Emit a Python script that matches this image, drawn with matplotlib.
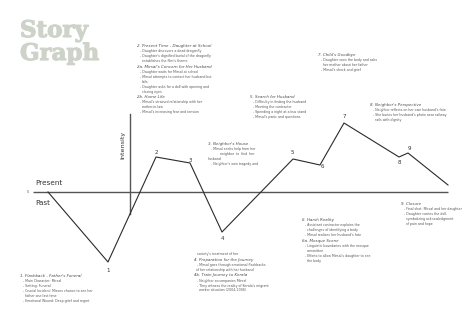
import matplotlib
matplotlib.use("Agg")
import matplotlib.pyplot as plt
import matplotlib.patheffects as pe

# story beats: position along the film (px-ish scale) and intensity (+ present / - past)
beat_labels = ["", "1", "2", "3", "4", "5", "6", "7", "8", "9", ""]
beat_x = [48, 108, 156, 190, 222, 293, 320, 344, 399, 408, 448]
beat_y = [0.0, -7.0, 3.5, 2.9, -4.0, 3.3, 2.7, 6.9, 3.5, 3.9, 0.7]
label_off = [None, (0, -9), (0, 5), (0, 3), (0, -7), (-1, 6), (2, -2), (0, 6), (0, -5), (1, 5), None]

blocks = [
    (137, 46, [("h", "2. Present Time - Daughter at School"),
               ("b", "- Daughter discovers a dead dragonfly"),
               ("b", "- Daughter's dignified burial of the dragonfly"),
               ("c", "establishes the film's theme"),
               ("h", "2a. Mirsal's Concern for Her Husband"),
               ("b", "- Daughter waits for Mirsal at school"),
               ("b", "- Mirsal attempts to contact her husband but"),
               ("c", "fails"),
               ("b", "- Daughter asks for a doll with opening and"),
               ("c", "closing eyes"),
               ("h", "2b. Home Life"),
               ("b", "- Mirsal's strained relationship with her"),
               ("c", "mother-in-law"),
               ("b", "- Mirsal's increasing fear and tension")]),
    (208, 144, [("h", "3. Neighbor's House"),
                ("b", "- Mirsal seeks help from her"),
                ("c", "       neighbor  to  find  her"),
                ("n", "husband"),
                ("b", "- Neighbor's own tragedy and")]),
    (194, 254, [("n", "   society's treatment of her"),
                ("h", "4. Preparation for the Journey"),
                ("b", "- Mirsal goes through emotional flashbacks"),
                ("n", "  of her relationship with her husband"),
                ("h", "4b. Train Journey to Kerala"),
                ("b", "- Neighbor accompanies Mirsal"),
                ("b", "- They witness the reality of Kerala's migrant"),
                ("c", "worker situation (2004-2006)")]),
    (250, 97, [("h", "5. Search for Husband"),
               ("b", "- Difficulty in finding the husband"),
               ("b", "- Meeting the contractor"),
               ("b", "- Spending a night at a bus stand"),
               ("b", "- Mirsal's panic and questions")]),
    (302, 220, [("h", "6. Harsh Reality"),
                ("b", "- Assistant contractor explains the"),
                ("c", "challenges of identifying a body"),
                ("b", "- Mirsal realizes her husband's fate"),
                ("h", "6a. Mosque Scene"),
                ("b", "- Linguistic boundaries with the mosque"),
                ("c", "committee"),
                ("b", "- Efforts to allow Mirsal's daughter to see"),
                ("c", "the body")]),
    (318, 55, [("h", "7. Child's Goodbye"),
               ("b", "- Daughter sees the body and asks"),
               ("c", "her mother about her father"),
               ("b", "- Mirsal's shock and grief")]),
    (370, 105, [("h", "8. Neighbor's Perspective"),
                ("b", "- Neighbor reflects on her own husband's fate"),
                ("b", "- She buries her husband's photo near railway"),
                ("c", "rails with dignity")]),
    (401, 204, [("h", "9. Closure"),
                ("b", "- Final shot: Mirsal and her daughter"),
                ("b", "- Daughter carries the doll,"),
                ("c", "symbolizing acknowledgment"),
                ("c", "of pain and hope")]),
    (20, 276, [("h", "1. Flashback - Father's Funeral"),
               ("b", "- Main Character: Mirsal"),
               ("b", "- Setting: Funeral"),
               ("b", "- Crucial Incident: Misses chance to see her"),
               ("c", "father one last time"),
               ("b", "- Emotional Wound: Deep grief and regret")]),
]

W, H = 474, 335
AXIS_PX = 192
SCALE = 10.0

def py(yp):
    return (AXIS_PX - yp) / SCALE

fig = plt.figure(figsize=(W / 100, H / 100), dpi=100)
ax = fig.add_axes([0, 0, 1, 1])
ax.set_xlim(0, W)
ax.set_ylim(py(H), py(0))
ax.axis("off")

# title
title_fx = [pe.withStroke(linewidth=0.8, foreground="#cdd3c9")]
ax.text(20, py(37), "Story", fontsize=16.5, fontweight="bold", family="DejaVu Serif",
        color="#cdd3c9", ha="left", va="baseline", path_effects=title_fx)
ax.text(20, py(60), "Graph", fontsize=16.5, fontweight="bold", family="DejaVu Serif",
        color="#cdd3c9", ha="left", va="baseline", path_effects=title_fx)

# axes of the graph
ax.plot([33, 448], [0, 0], color="#555555", lw=1.0, solid_capstyle="butt")
ax.plot([130, 130], [py(114), py(214)], color="#555555", lw=1.0)
ax.text(35, py(185), "Present", fontsize=5.2, color="#333333", ha="left", va="baseline")
ax.text(35, py(205), "Past", fontsize=5.2, color="#333333", ha="left", va="baseline")
ax.text(123, py(145), "Intensity", fontsize=4.6, color="#333333", rotation=90,
        ha="center", va="center")
ax.text(28, 0, "5", fontsize=2.5, color="#555555", ha="center", va="center")

# story line
ax.plot(beat_x, beat_y, color="#2b2b2b", lw=0.8)
for lab, x, y, off in zip(beat_labels, beat_x, beat_y, label_off):
    if not lab:
        continue
    ax.text(x + off[0], y + off[1] / SCALE, lab, fontsize=4, color="#333333",
            ha="center", va="center")

# annotation blocks
for x0, y0, lines in blocks:
    yp = y0
    for kind, txt in lines:
        if kind == "h":
            if yp != y0:
                yp += 0.8
            ax.text(x0, py(yp), txt, fontsize=2.9, style="italic", color="#4a4a4a",
                    ha="left", va="center")
            yp += 5.2
        else:
            dx = 3 if kind == "b" else (5 if kind == "c" else 0)
            ax.text(x0 + dx, py(yp), txt, fontsize=2.3, color="#5a5a5a",
                    ha="left", va="center")
            yp += 4.9

fig.savefig("out.png", dpi=100)
